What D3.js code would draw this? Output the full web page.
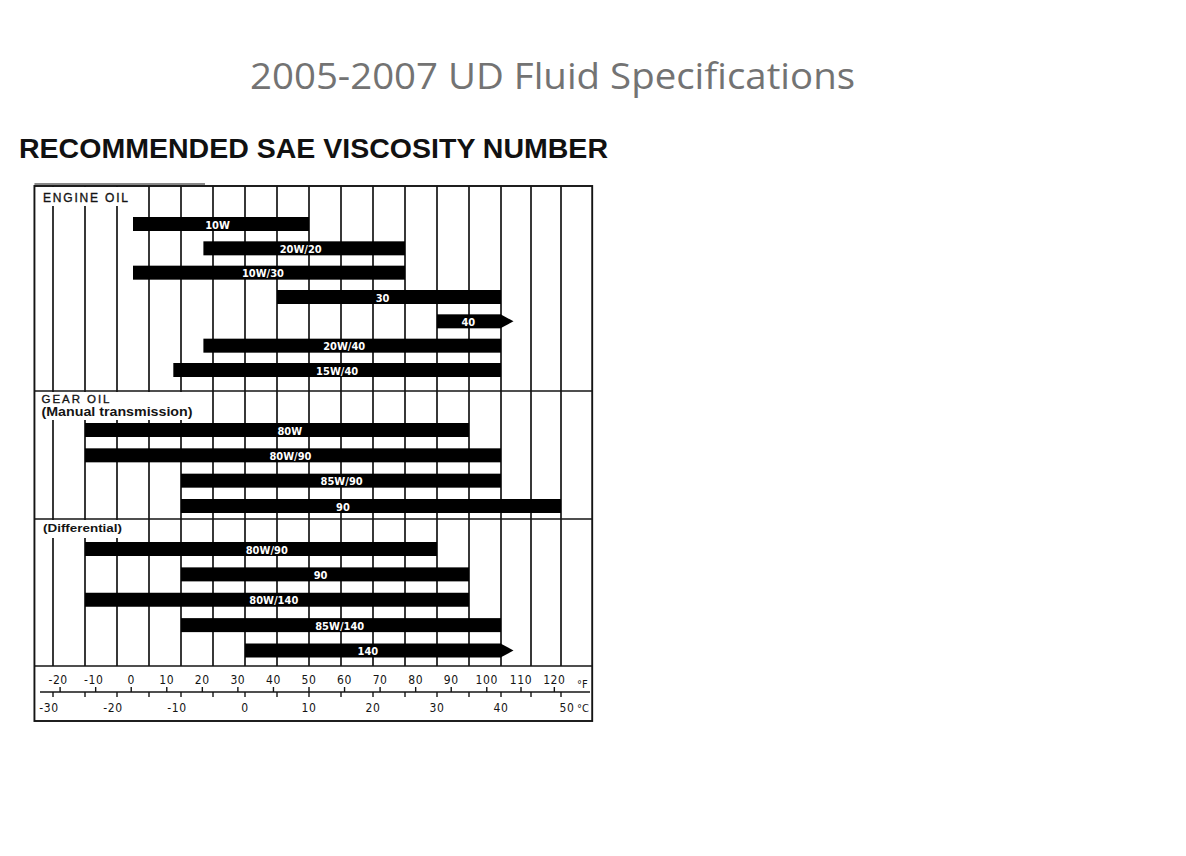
<!DOCTYPE html>
<html>
<head>
<meta charset="utf-8">
<script src="https://cdn.jsdelivr.net/npm/d3@7"></script>
<style>
  html, body { margin: 0; padding: 0; background: #fff; }
  svg { display: block; }
</style>
</head>
<body>
<svg id="chart" width="1186" height="856"></svg>
<script>
// ---------------- DATA ----------------
const titleText = "2005-2007 UD Fluid Specifications";
const subtitleText = "RECOMMENDED SAE VISCOSITY NUMBER";

// vertical grid lines (°C)
const gridCelsius = [-30, -25, -20, -15, -10, -5, 0, 5, 10, 15, 20, 25, 30, 35, 40, 45, 50];
// axis tick labels
const fahrenheitTicks = [-20, -10, 0, 10, 20, 30, 40, 50, 60, 70, 80, 90, 100, 110, 120];
const celsiusTicks = [-30, -25, -20, -15, -10, -5, 0, 5, 10, 15, 20, 25, 30, 35, 40, 45, 50];
const celsiusLabels = [-30, -20, -10, 0, 10, 20, 30, 40, 50];

// Engine oil
const engineGrades  = ["10W", "20W/20", "10W/30", "30", "40", "20W/40", "15W/40"];
const engineFrom    = [-17.5, -6.5, -17.5, 5, 30, -6.5, -11.2];
const engineTo      = [10, 25, 25, 40, 40, 40, 40];
const engineArrow   = [false, false, false, false, true, false, false];
const engineLabelAt = [-4.3, 8.7, 2.8, 21.5, 34.9, 15.5, 14.4];

// Gear oil (manual transmission)
const gearGrades  = ["80W", "80W/90", "85W/90", "90"];
const gearFrom    = [-25, -25, -10, -10];
const gearTo      = [35, 40, 40, 50];
const gearArrow   = [false, false, false, false];
const gearLabelAt = [7.0, 7.1, 15.1, 15.3];

// Differential
const diffGrades  = ["80W/90", "90", "80W/140", "85W/140", "140"];
const diffFrom    = [-25, -10, -25, -10, 0];
const diffTo      = [30, 35, 35, 40, 40];
const diffArrow   = [false, false, false, false, true];
const diffLabelAt = [3.4, 11.8, 4.5, 14.8, 19.2];

// ---------------- CHART ----------------
const svg = d3.select("#chart");
const ink = "#141414";
const condensed = "'DejaVu Sans Condensed', 'DejaVu Sans', sans-serif";

// x scale in °C (slightly compressed at the hot end, as in the scanned chart)
const x = d3.scaleLinear().domain([-30, 40, 50]).range([53, 501, 561]);
const f2c = f => (f - 32) * 5 / 9;

const frame = { left: x(-32.9), right: x(55.2), top: 186, sep1: 391, sep2: 519, axisTop: 666, bottom: 721 };

const sections = [
  { grades: engineGrades, from: engineFrom, to: engineTo, arrow: engineArrow, labelAt: engineLabelAt, range: [224, 370] },
  { grades: gearGrades, from: gearFrom, to: gearTo, arrow: gearArrow, labelAt: gearLabelAt, range: [430, 506] },
  { grades: diffGrades, from: diffFrom, to: diffTo, arrow: diffArrow, labelAt: diffLabelAt, range: [549, 650.5] }
];

// Title
svg.append("text")
  .attr("x", 552.5).attr("y", 89)
  .attr("text-anchor", "middle")
  .attr("font-family", "'Open Sans', 'Noto Sans', sans-serif")
  .attr("font-size", 36)
  .attr("fill", "#737373")
  .attr("textLength", 605).attr("lengthAdjust", "spacingAndGlyphs")
  .text(titleText);

// Subtitle
svg.append("text")
  .attr("x", 19).attr("y", 158)
  .attr("font-family", "'Liberation Sans', Arial, sans-serif")
  .attr("font-weight", "bold")
  .attr("font-size", 27.5)
  .attr("fill", "#111")
  .attr("textLength", 589).attr("lengthAdjust", "spacingAndGlyphs")
  .text(subtitleText);

// vertical grid lines
svg.append("g").selectAll("line").data(gridCelsius).join("line")
  .attr("x1", d => x(d)).attr("x2", d => x(d))
  .attr("y1", frame.top).attr("y2", frame.axisTop)
  .attr("stroke", "#222").attr("stroke-width", 1.8);

// white knock-outs behind section labels
const knock = [
  { x: frame.left + 1, y: frame.top + 1, w: 95, h: 19 },
  { x: frame.left + 1, y: frame.sep1 + 1, w: 161, h: 28 },
  { x: frame.left + 1, y: frame.sep2 + 1, w: 89, h: 18 }
];
svg.append("g").selectAll("rect").data(knock).join("rect")
  .attr("x", d => d.x).attr("y", d => d.y).attr("width", d => d.w).attr("height", d => d.h)
  .attr("fill", "#fff");

// section separators and axis band line
svg.append("g").selectAll("line").data([frame.sep1, frame.sep2, frame.axisTop]).join("line")
  .attr("x1", frame.left).attr("x2", frame.right)
  .attr("y1", d => d).attr("y2", d => d)
  .attr("stroke", ink).attr("stroke-width", 1.7);

// frame
svg.append("rect")
  .attr("x", frame.left).attr("y", frame.top)
  .attr("width", frame.right - frame.left).attr("height", frame.bottom - frame.top)
  .attr("fill", "none").attr("stroke", ink).attr("stroke-width", 1.9);
// thicker scan mark on the top-left of the frame
svg.append("line")
  .attr("x1", frame.left).attr("x2", 205).attr("y1", frame.top - 2).attr("y2", frame.top - 2)
  .attr("stroke", "#888").attr("stroke-width", 2);

// section labels
const labelFont = "'Liberation Sans', Arial, sans-serif";
svg.append("text").attr("x", 43).attr("y", 202)
  .attr("font-family", labelFont).attr("font-size", 12).attr("fill", ink)
  .attr("stroke", ink).attr("stroke-width", 0.35)
  .attr("textLength", 85).attr("lengthAdjust", "spacing")
  .text("ENGINE OIL");
svg.append("text").attr("x", 41.5).attr("y", 403)
  .attr("font-family", labelFont).attr("font-size", 11.5).attr("fill", ink)
  .attr("stroke", ink).attr("stroke-width", 0.35)
  .attr("textLength", 68).attr("lengthAdjust", "spacing")
  .text("GEAR OIL");
svg.append("text").attr("x", 41.5).attr("y", 416)
  .attr("font-family", labelFont).attr("font-size", 12).attr("font-weight", "bold").attr("fill", ink)
  .attr("textLength", 151).attr("lengthAdjust", "spacingAndGlyphs")
  .text("(Manual transmission)");
svg.append("text").attr("x", 43).attr("y", 531.5)
  .attr("font-family", labelFont).attr("font-size", 11).attr("font-weight", "bold").attr("fill", ink)
  .attr("textLength", 79).attr("lengthAdjust", "spacingAndGlyphs")
  .text("(Differential)");

// bars
const barH = 14;
sections.forEach(sec => {
  const y = d3.scalePoint().domain(sec.grades).range(sec.range);
  const rows = sec.grades.map((g, i) => ({ g, from: sec.from[i], to: sec.to[i], arrow: sec.arrow[i], lab: sec.labelAt[i] }));
  const g = svg.append("g");
  g.selectAll("rect").data(rows).join("rect")
    .attr("x", d => x(d.from)).attr("y", d => y(d.g) - barH / 2)
    .attr("width", d => x(d.to) - x(d.from)).attr("height", barH)
    .attr("fill", "#000");
  g.selectAll("path").data(rows.filter(d => d.arrow)).join("path")
    .attr("d", d => {
      const x0 = x(d.to) - 0.5, yc = y(d.g);
      return `M${x0},${yc - barH / 2}L${x0 + 13},${yc}L${x0},${yc + barH / 2}Z`;
    })
    .attr("fill", "#000");
  g.selectAll("text").data(rows).join("text")
    .attr("x", d => x(d.lab)).attr("y", d => y(d.g) + 4.5)
    .attr("text-anchor", "middle")
    .attr("font-family", condensed).attr("font-size", 11).attr("font-weight", "bold")
    .attr("fill", "#fff")
    .text(d => d.g);
});

// temperature axis
const axisY = 692;
svg.append("line").attr("x1", 40).attr("x2", 590).attr("y1", axisY).attr("y2", axisY)
  .attr("stroke", ink).attr("stroke-width", 1.5);

svg.append("g").selectAll("line").data(fahrenheitTicks).join("line")
  .attr("x1", d => x(f2c(d))).attr("x2", d => x(f2c(d)))
  .attr("y1", axisY).attr("y2", axisY - 5)
  .attr("stroke", ink).attr("stroke-width", 1.4);
svg.append("g").selectAll("line").data(celsiusTicks).join("line")
  .attr("x1", d => x(d)).attr("x2", d => x(d))
  .attr("y1", axisY).attr("y2", axisY + 5)
  .attr("stroke", ink).attr("stroke-width", 1.4);

svg.append("g").selectAll("text").data(fahrenheitTicks).join("text")
  .attr("x", d => x(f2c(d)) + (d < 0 ? -2 : 0)).attr("y", 684)
  .attr("text-anchor", "middle")
  .attr("font-family", condensed).attr("font-size", 12).attr("fill", ink)
  .attr("letter-spacing", 0.6)
  .text(d => d);
svg.append("text").attr("x", x(f2c(120)) + 28).attr("y", 688)
  .attr("text-anchor", "middle")
  .attr("font-family", condensed).attr("font-size", 11).attr("fill", ink)
  .text("°F");

svg.append("g").selectAll("text").data(celsiusLabels).join("text")
  .attr("x", d => x(d) + (d < 0 ? -4 : (d === 50 ? 6 : 0))).attr("y", 712)
  .attr("text-anchor", "middle")
  .attr("font-family", condensed).attr("font-size", 12).attr("fill", ink)
  .attr("letter-spacing", 0.6)
  .text(d => d);
svg.append("text").attr("x", x(50) + 22).attr("y", 712)
  .attr("text-anchor", "middle")
  .attr("font-family", condensed).attr("font-size", 11).attr("fill", ink)
  .text("°C");
</script>
</body>
</html>
